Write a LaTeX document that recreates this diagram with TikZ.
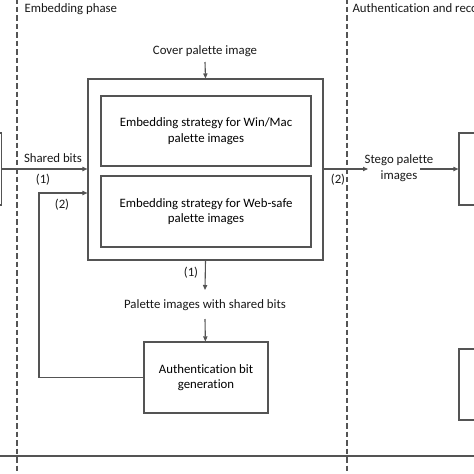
\documentclass[tikz,border=0pt]{standalone}
\usepackage{fontspec}
\setmainfont[Ligatures=NoCommon]{Carlito}
\usetikzlibrary{arrows.meta}
\definecolor{lc}{gray}{0.33}
\begin{document}
\begin{tikzpicture}[x=1pt,y=-1pt,line width=1.1pt,
  box/.style={draw=lc,rectangle,inner sep=0pt,align=center,font=\fontsize{12.8}{15.5}\selectfont},
  lbl/.style={font=\fontsize{12.8}{15.5}\selectfont,inner sep=1pt,align=center,text=black!90},
  arr/.style={draw=lc,-{Triangle[length=5pt,width=4.2pt]}},
  sep/.style={draw=lc,dash pattern=on 5.5pt off 3pt,line width=1.1pt}]
\useasboundingbox (0,0) rectangle (474,474);
\clip (0,0) rectangle (474,474);
\fill[white] (0,0) rectangle (474,474);
% swimlane separators
\draw[sep] (17,-2) -- (17,476);
\draw[sep] (347,-2) -- (347,476);
\draw[draw=lc] (-2,456) -- (476,456);
\node[lbl,anchor=west] (ph1) at (23,9) {Embedding phase};
\node[lbl,anchor=west] (ph2) at (351,9) {Authentication and recovery phase};
% boxes
\node[box,minimum width=235pt,minimum height=181pt] (outer) at (205.5,169.5) {};
\node[box,minimum width=210pt,minimum height=70pt] (box1) at (206,131) {Embedding strategy for Win/Mac\\palette images};
\node[box,minimum width=210pt,minimum height=71pt] (box2) at (206,211.5) {Embedding strategy for Web-safe\\palette images};
\node[box,minimum width=124pt,minimum height=71pt] (auth) at (206,377.5) {Authentication bit\\generation};
\node[box,minimum width=25pt,minimum height=72pt,line width=1.8pt] (lbox) at (-11,169) {};
\node[box,minimum width=31pt,minimum height=72pt] (rbox1) at (474.5,169) {};
\node[box,minimum width=31pt,minimum height=71pt] (rbox2) at (474.5,384.5) {};
% text nodes
\node[lbl] (cover) at (205,51) {Cover palette image};
\node[lbl] (pal) at (205,305) {Palette images with shared bits};
\node[lbl] (stego) at (399,168) {Stego palette\\images};
% connectors
\draw[arr] (205,62) -- (outer.north);
\draw[arr] (lbox.east |- 0,169) -- (outer.west |- 0,169);
\coordinate (c2) at (39,193);
\draw[arr] (auth.west) -| (c2) -- (c2 -| outer.west);
\draw[arr] (outer.south) -- (205,290);
\draw[arr] (205,319) -- (auth);
\draw[arr] (outer.east |- 0,169) -- (368,169);
\coordinate (s2) at (420,169);
\draw[arr] (s2) -- (rbox1.west |- s2);
% labels
\node[lbl] (l1) at (53,158) {Shared bits};
\node[lbl] (l2) at (43,180) {(1)};
\node[lbl] (l3) at (62,205) {(2)};
\node[lbl] (l4) at (191,273) {(1)};
\node[lbl] (l5) at (338,180) {(2)};
\end{tikzpicture}
\end{document}
